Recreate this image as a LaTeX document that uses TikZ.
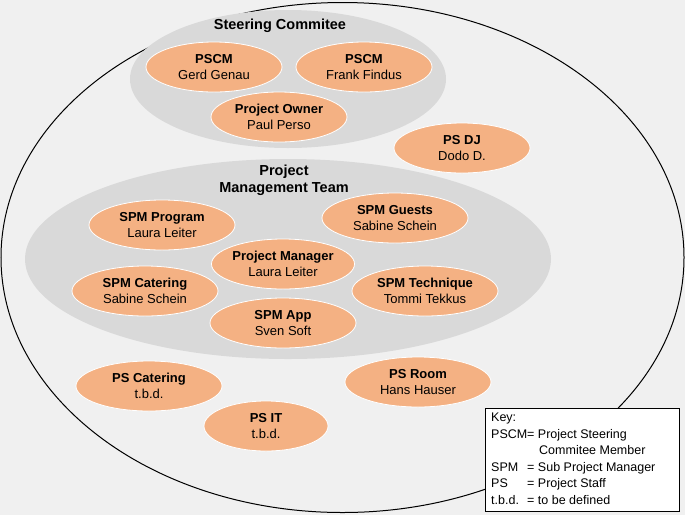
\documentclass[tikz,border=0pt]{standalone}
\usepackage{fontspec}
\setmainfont{Liberation Sans}
\usetikzlibrary{shapes.geometric}
\definecolor{bg}{HTML}{F0F0F0}
\definecolor{grp}{HTML}{D9D9D9}
\definecolor{org}{HTML}{F4B183}
\tikzset{
 person/.style={ellipse,fill=org,draw=white,line width=0.8pt,minimum width=136pt,minimum height=50pt,inner sep=0pt,align=center,font=\fontsize{13}{16}\selectfont},
 title/.style={font=\bfseries\fontsize{14.5}{17}\selectfont,align=center}
}
\newcommand{\pp}[2]{\textbf{#1}\\#2}
\begin{document}
\begin{tikzpicture}[x=1pt,y=-1pt]
\useasboundingbox (0,0) rectangle (685,515);
\fill[bg] (0,0) rectangle (685,515);
\node[ellipse,draw=black,line width=1pt,minimum width=683pt,minimum height=510pt] (outer) at (342.5,257.5) {};
\node[ellipse,fill=grp,minimum width=316pt,minimum height=138pt] (sc) at (288,79) {};
\node[ellipse,fill=grp,minimum width=526pt,minimum height=200pt] (pmt) at (288,259) {};
\node[title] (sct) at (280,26) {Steering Commitee};
\node[title] (pmtt) at (284,180) {Project\\Management Team};
\node[person] (p1) at (214,67) {\pp{PSCM}{Gerd Genau}};
\node[person] (p2) at (364,67) {\pp{PSCM}{Frank Findus}};
\node[person] (po) at (279,117) {\pp{Project Owner}{Paul Perso}};
\node[person] (dj) at (462,148) {\pp{PS DJ}{Dodo D.}};
\node[person,minimum width=146pt] (prog) at (162,225) {\pp{SPM Program}{Laura Leiter}};
\node[person,minimum width=146pt] (gue) at (395,218) {\pp{SPM Guests}{Sabine Schein}};
\node[person,minimum width=140pt] (pm) at (283,264) {\pp{Project Manager}{Laura Leiter}};
\node[person,minimum width=146pt] (cat) at (145,291) {\pp{SPM Catering}{Sabine Schein}};
\node[person,minimum width=146pt] (tec) at (425,291) {\pp{SPM Technique}{Tommi Tekkus}};
\node[person,minimum width=146pt] (app) at (283,323) {\pp{SPM App}{Sven Soft}};
\node[person,minimum width=146pt] (psc) at (149,386) {\pp{PS Catering}{t.b.d.}};
\node[person,minimum width=146pt] (psr) at (418,382) {\pp{PS Room}{Hans Hauser}};
\node[person,minimum width=124pt] (psi) at (266,426) {\pp{PS IT}{t.b.d.}};
\node[draw=black,fill=white,line width=0.8pt,anchor=north west,minimum width=194pt,minimum height=103pt,inner sep=0pt] (key) at (485,408) {};
\node[anchor=north west,inner sep=0pt,font=\fontsize{12.5}{16.5}\selectfont,align=left] (keyt) at (491,413) {Key:\\
\makebox[36pt][l]{PSCM}= Project Steering\\
\makebox[36pt][l]{}\hspace{12pt}Commitee Member\\
\makebox[36pt][l]{SPM}= Sub Project Manager\\
\makebox[36pt][l]{PS}= Project Staff\\
\makebox[36pt][l]{t.b.d.}= to be defined};
\end{tikzpicture}
\end{document}
